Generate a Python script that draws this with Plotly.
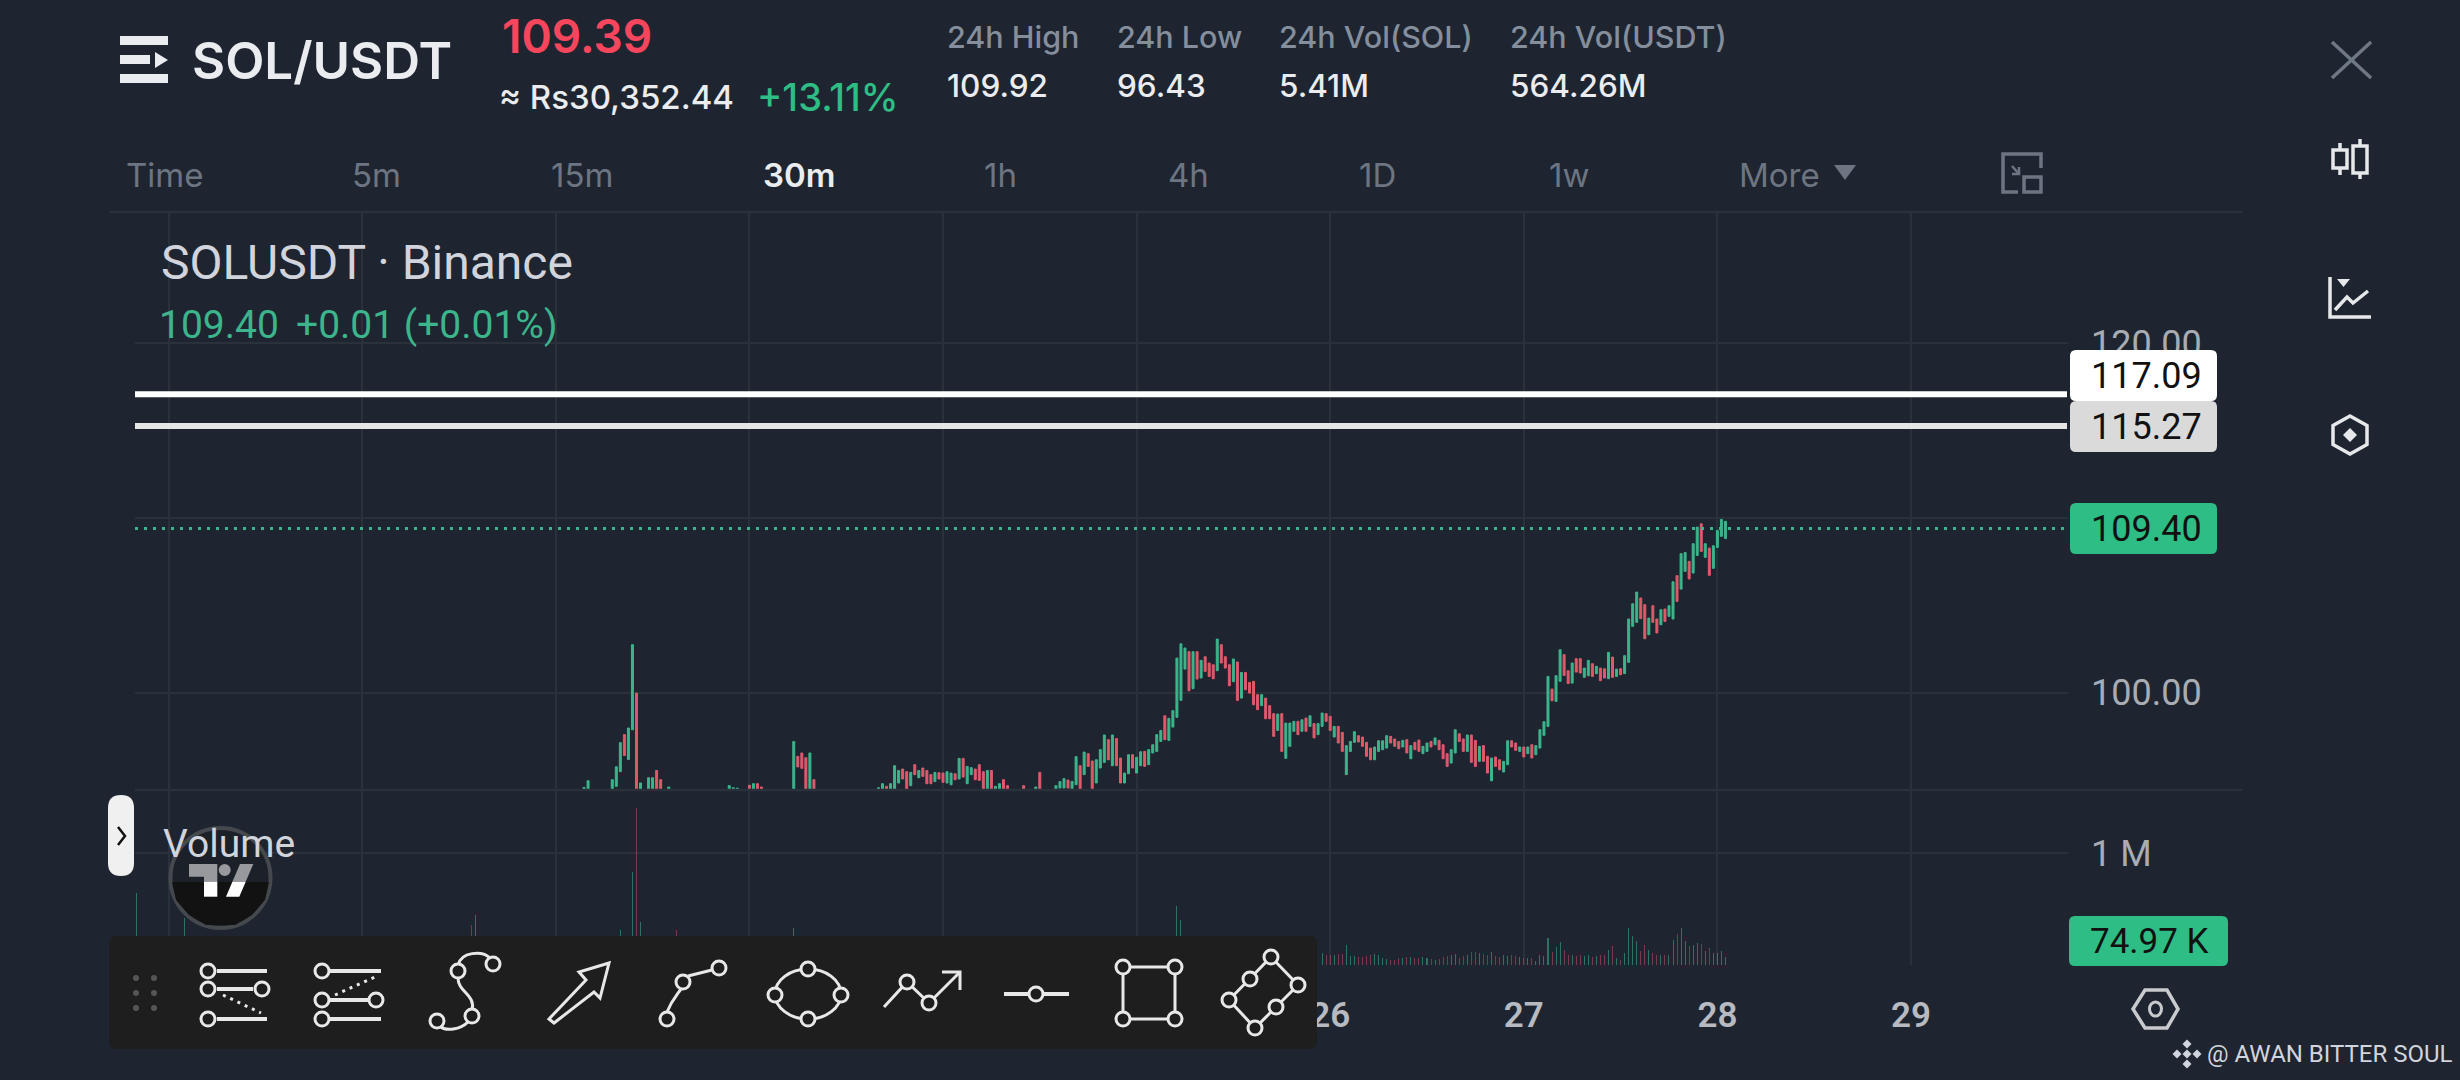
import pandas as pd
import plotly.graph_objects as go
from plotly.subplots import make_subplots

W, H = 2460, 1080
N = None

BG = '#1e2530'
GRID = '#2b313b'
GREEN = '#2ebd85'
BAR_GREEN = '#3cb58c'
BAR_RED = '#df5a6c'
RED = '#f6465d'
LIGHT = '#eaecef'
MUTED = '#848e9c'
DIM = '#6d7582'

# 30m candles starting 22 Dec 03:30, ten per row. N = below the visible pane
highs = [
    94.58, 94.96, N, N, N, N, N, 95.02, 95.76, 97.14,
    97.60, 97.98, 102.75, 99.98, 94.83, N, 95.13, 95.13, 95.55, 95.02,
    N, 94.60, N, N, N, N, N, N, N, N,
    N, N, N, N, N, N, 94.68, 94.56, 94.54, N,
    N, 94.70, 94.79, 94.79, 94.60, N, N, N, N, N,
    N, N, 97.20, 96.36, 96.55, 96.28, 96.55, 95.02, N, N,
    N, N, N, N, N, N, N, N, N, N,
    N, N, N, 94.56, 94.79, 94.64, 94.79, 95.82, 95.55, 95.63,
    95.48, 95.44, 95.88, 95.55, 95.69, 95.54, 95.31, 95.44, 95.42, 95.40,
    95.48, 95.40, 95.36, 96.24, 96.24, 95.78, 95.71, 95.63, 95.88, 95.48,
    95.55, 95.55, 94.64, 94.79, 95.02, 94.68, N, N, N, 94.68,
    N, N, 94.60, 95.44, N, N, N, 94.68, 94.91, 95.08,
    95.00, 94.92, 96.34, 95.82, 96.60, 96.51, 96.09, 96.16, 96.74, 97.58,
    97.31, 97.58, 97.37, 96.26, 95.40, 96.45, 96.45, 96.30, 96.62, 96.64,
    96.74, 97.02, 97.60, 97.84, 98.68, 98.53, 98.97, 101.98, 102.80, 102.56,
    102.35, 102.35, 102.35, 101.85, 102.06, 101.70, 101.60, 103.07, 102.75, 102.06,
    101.60, 101.93, 101.76, 101.16, 101.16, 100.59, 100.65, 99.89, 99.89, 99.69,
    99.26, 98.80, 98.78, 98.80, 98.26, 98.26, 98.36, 98.36, 98.45, 98.55,
    98.68, 98.23, 98.23, 98.84, 98.80, 98.65, 98.07, 98.07, 97.73, 96.97,
    97.21, 97.77, 97.54, 97.46, 97.16, 96.83, 96.89, 97.25, 97.25, 97.54,
    97.50, 97.35, 97.21, 97.27, 97.31, 96.97, 97.16, 97.29, 96.93, 97.12,
    97.21, 97.41, 97.27, 97.02, 96.51, 96.74, 97.88, 97.65, 97.35, 97.58,
    97.58, 97.27, 96.93, 96.97, 96.36, 96.26, 96.32, 96.16, 96.07, 97.25,
    97.25, 97.12, 96.89, 96.89, 96.89, 97.02, 96.97, 97.88, 98.34, 100.93,
    100.21, 100.97, 102.46, 102.18, 101.26, 101.70, 101.95, 101.95, 101.41, 101.85,
    101.66, 101.51, 101.41, 101.37, 102.31, 102.04, 101.35, 101.37, 102.12, 104.22,
    105.09, 105.76, 105.42, 105.04, 104.27, 104.98, 104.22, 104.75, 104.79, 104.98,
    106.35, 106.70, 107.96, 108.03, 107.52, 108.53, 109.48, 109.67, 108.53, 108.28,
    108.41, 109.29, 109.92, 109.81,
]
lows = [
    94.3, 94.3, N, N, N, N, N, 94.3, 94.64, 95.48,
    96.41, 96.18, 97.88, 94.3, 94.3, N, 94.3, 94.3, 94.3, 94.3,
    N, 94.3, N, N, N, N, N, N, N, N,
    N, N, N, N, N, N, 94.3, 94.3, 94.3, N,
    N, 94.3, 94.3, 94.3, 94.3, N, N, N, N, N,
    N, N, 94.3, 95.75, 95.67, 94.3, 94.3, 94.3, N, N,
    N, N, N, N, N, N, N, N, N, N,
    N, N, N, 94.3, 94.3, 94.3, 94.3, 94.3, 94.83, 95.06,
    94.3, 94.68, 95.31, 95.13, 95.21, 94.79, 94.79, 94.91, 95.06, 94.87,
    94.83, 94.73, 95.02, 95.06, 95.17, 94.79, 95.31, 95.02, 94.98, 94.3,
    94.3, 94.3, 94.3, 94.3, 94.3, 94.3, N, N, N, 94.3,
    N, N, 94.3, 94.3, N, N, N, 94.49, 94.54, 94.54,
    94.54, 94.49, 94.73, 94.3, 95.31, 95.78, 94.3, 94.83, 95.69, 96.01,
    96.16, 95.82, 95.82, 94.83, 94.83, 95.36, 95.69, 95.40, 95.82, 95.78,
    95.88, 96.55, 96.64, 97.21, 97.31, 97.27, 98.03, 98.59, 99.56, 101.35,
    100.11, 100.23, 100.78, 100.84, 101.22, 100.93, 100.80, 101.26, 101.70, 101.41,
    100.40, 100.63, 99.56, 99.69, 100.17, 99.98, 99.31, 99.03, 99.26, 98.51,
    98.51, 97.50, 97.84, 96.64, 96.24, 96.93, 97.79, 97.60, 97.79, 97.79,
    98.07, 97.41, 97.60, 98.07, 98.36, 97.84, 97.46, 97.12, 96.64, 95.31,
    96.64, 97.16, 97.18, 96.93, 96.36, 96.16, 96.16, 96.64, 96.74, 96.83,
    97.12, 96.93, 96.79, 96.89, 96.55, 96.22, 96.74, 96.64, 96.51, 96.64,
    96.89, 97.02, 96.74, 96.22, 95.78, 95.97, 96.55, 97.21, 96.64, 96.64,
    96.01, 95.78, 96.07, 96.07, 95.40, 94.96, 95.78, 95.59, 95.46, 95.88,
    96.89, 96.70, 96.64, 96.32, 96.51, 96.26, 96.45, 96.83, 97.56, 98.07,
    99.54, 99.50, 100.65, 100.99, 100.52, 100.55, 101.18, 101.13, 100.88, 100.97,
    100.93, 101.09, 100.69, 100.84, 100.80, 100.88, 100.93, 101.03, 101.09, 101.74,
    103.80, 104.03, 104.24, 103.09, 103.32, 104.03, 103.42, 103.89, 104.08, 104.37,
    104.22, 105.23, 105.93, 106.95, 106.51, 106.85, 107.86, 108.09, 107.75, 106.72,
    107.12, 108.32, 108.95, 108.83,
]
# g = up candle, r = down candle, . = not visible
directions = (
    "gg.....ggg" "rggrg.ggrr" ".g........" "......ggg." ".rgrr....."
    "..grrrgr.." ".........." "...ggrgggr" "rgrgrrrgrr" "ggrgrggrrr"
    "grggrr...r" "..gr...ggg" "rggrgrrggg" "rgrrggrggr" "ggggrggggg"
    "rgrgrrrgrr" "rgrgrrrrgr" "rrgrgggrgr" "grggrrgrrg" "ggrrrrgggg"
    "rrrgrgrrgg" "rgrrrggrrg" "rrgrrgrrgg" "rrgrgrgggg" "rggrrgrrgg"
    "rgrrgrgrgg" "ggrrgrrgrg" "grggrggrgr" "gggg"
)

# volume spikes that show above the drawing toolbar
spike_times = ['2023-12-19 20:00', '2023-12-20 02:00', '2023-12-21 13:30', '2023-12-21 14:00',
               '2023-12-22 08:00', '2023-12-22 09:30', '2023-12-22 10:00', '2023-12-22 10:30',
               '2023-12-22 15:00', '2023-12-23 05:30', '2023-12-25 05:00', '2023-12-25 05:30']
spike_volumes = [643, 420, 357, 446, 312, 830, 1400, 384, 312, 330, 527, 400]  # thousands
spike_directions = 'ggrgggrgrggg'

# volume to the right of the toolbar, from candle 183 (25 Dec 23:00) to the last one
tail_volumes = [
    107, 92, 92, 86, 98, 98, 182, 77, 77, 68, 68, 77, 86, 98, 92, 62, 57, 48, 48, 62,
    62, 68, 68, 62, 62, 68, 62, 57, 48, 57, 68, 77, 92, 98, 62, 77, 86, 116, 116, 107,
    98, 92, 113, 77, 68, 86, 77, 86, 77, 68, 62,
    62, 62, 39, 86, 77, 241, 116, 158, 205, 137, 86, 92, 77, 86, 77, 92, 68, 77, 92, 86,
    137, 167, 62, 48, 107, 330, 256, 217, 122, 182, 137, 107, 92, 92, 86, 92, 226, 277, 330, 217,
    167, 182, 196, 187, 122, 152, 107, 107, 128, 74.97,
]
TAIL_START = 183

level_prices = [117.09, 115.27]
last_price = 109.40
last_volume = '74.97 K'
price_ticks = [100, 110, 120]
price_tick_labels = ['100.00', '', '120.00']  # 110.00 sits behind the last price tag
volume_ticks = [1000000]
volume_tick_labels = ['1 M']

interval_labels = ['Time', '5m', '15m', '30m', '1h', '4h', '1D', '1w', 'More']
interval_lefts = [125, 351, 550, 762, 983, 1167, 1358, 1548, 1738]
stat_titles = ['24h High', '24h Low', '24h Vol(SOL)', '24h Vol(USDT)']
stat_values = ['109.92', '96.43', '5.41M', '564.26M']
stat_lefts = [946, 1116, 1278, 1509]

shapes = []
annotations = []


def px(x):
    return x / W


def py(y):
    return 1 - y / H


def path_shape(d, fill=None, line=None, width=0):
    shapes.append(dict(type='path', path=d, xref='paper', yref='paper', layer='above',
                       fillcolor=fill if fill else 'rgba(0,0,0,0)',
                       line=dict(color=line if line else 'rgba(0,0,0,0)', width=width)))


def poly(points, fill=None, line=None, width=0, closed=True):
    d = 'M ' + ' L '.join(f'{px(x)} {py(y)}' for x, y in points)
    path_shape(d + (' Z' if closed else ''), fill, line, width)


def curve(start, segments, line, width):
    # segments are cubic beziers given as 3 points each
    d = f'M {px(start[0])} {py(start[1])}'
    for seg in segments:
        d += ' C ' + ' '.join(f'{px(x)} {py(y)}' for x, y in seg)
    path_shape(d, None, line, width)


def seg(x0, y0, x1, y1, color, width, dash='solid'):
    shapes.append(dict(type='line', xref='paper', yref='paper', layer='above',
                       x0=px(x0), x1=px(x1), y0=py(y0), y1=py(y1),
                       line=dict(color=color, width=width, dash=dash)))


def circle(cx, cy, r, fill=None, line=None, width=0, ry=None):
    ry = ry if ry else r
    shapes.append(dict(type='circle', xref='paper', yref='paper', layer='above',
                       x0=px(cx - r), x1=px(cx + r), y0=py(cy + ry), y1=py(cy - ry),
                       fillcolor=fill if fill else 'rgba(0,0,0,0)',
                       line=dict(color=line if line else 'rgba(0,0,0,0)', width=width)))


def box(x0, y0, x1, y1, fill, r=6):
    k = [(x0 + r, y0), (x1 - r, y0), (x1, y0 + r), (x1, y1 - r), (x1 - r, y1), (x0 + r, y1), (x0, y1 - r), (x0, y0 + r)]
    d = f'M {px(k[0][0])} {py(k[0][1])} L {px(k[1][0])} {py(k[1][1])} Q {px(x1)} {py(y0)} {px(k[2][0])} {py(k[2][1])}'
    d += f' L {px(k[3][0])} {py(k[3][1])} Q {px(x1)} {py(y1)} {px(k[4][0])} {py(k[4][1])}'
    d += f' L {px(k[5][0])} {py(k[5][1])} Q {px(x0)} {py(y1)} {px(k[6][0])} {py(k[6][1])}'
    d += f' L {px(k[7][0])} {py(k[7][1])} Q {px(x0)} {py(y0)} {px(k[0][0])} {py(k[0][1])} Z'
    path_shape(d, fill)


def label(text, x, y, size, color, anchor='left', weight=400, family='Inter'):
    annotations.append(dict(text=text, x=px(x), y=py(y), xref='paper', yref='paper', showarrow=False,
                            xanchor=anchor, yanchor='middle', borderpad=0,
                            font=dict(size=size, color=color, family=family, weight=weight)))


candle_times = pd.date_range('2023-12-22 03:30', periods=len(highs), freq='30min')
opens = [lo if d == 'g' else hi for lo, hi, d in zip(lows, highs, directions)]
closes = [hi if d == 'g' else lo for lo, hi, d in zip(lows, highs, directions)]

volume_times = list(pd.to_datetime(spike_times)) + list(candle_times[TAIL_START:])
volumes = [v * 1000 for v in spike_volumes + tail_volumes]
volume_dirs = list(spike_directions) + list(directions[TAIL_START:])
volume_colors = ['rgba(60,181,140,0.55)' if d == 'g' else 'rgba(223,90,108,0.45)' for d in volume_dirs]

fig = make_subplots(rows=2, cols=1, shared_xaxes=True, vertical_spacing=0)
fig.add_trace(go.Candlestick(x=candle_times, open=opens, high=highs, low=lows, close=closes,
                             increasing=dict(line=dict(color=BAR_GREEN, width=1), fillcolor=BAR_GREEN),
                             decreasing=dict(line=dict(color=BAR_RED, width=1), fillcolor=BAR_RED),
                             showlegend=False), row=1, col=1)
fig.add_trace(go.Bar(x=volume_times, y=volumes, marker=dict(color=volume_colors, line=dict(width=0)),
                     width=460000, showlegend=False), row=2, col=1)

fig.update_xaxes(range=['2023-12-19 19:50', '2023-12-29 19:28'], type='date',
                 tick0='2023-12-20', dtick=86400000, tickformat='%d',
                 showgrid=True, gridcolor=GRID, gridwidth=2, zeroline=False, showline=False,
                 ticks='', rangeslider_visible=False,
                 domain=[px(135), px(2068)])
fig.update_xaxes(showticklabels=False, row=1, col=1)
fig.update_xaxes(showticklabels=True, ticklabelstandoff=26,
                 tickfont=dict(family='Roboto', size=35, color='#b7bac0', weight=600), row=2, col=1)

fig.update_yaxes(side='right', showgrid=True, gridcolor=GRID, gridwidth=2, zeroline=False, showline=False,
                 ticks='', ticklabelstandoff=22,
                 tickfont=dict(family='Roboto', size=36, color='#a9adb3'))
fig.update_yaxes(range=[94.43, 127.52], tickvals=price_ticks, ticktext=price_tick_labels,
                 domain=[py(790), py(212)], row=1, col=1)
fig.update_yaxes(range=[0, 1562500], tickvals=volume_ticks, ticktext=volume_tick_labels,
                 domain=[py(965), py(790)], row=2, col=1)

# header
poly([(120, 36), (168, 36), (168, 45), (120, 45)], fill=LIGHT)
poly([(120, 55), (150, 55), (150, 64), (120, 64)], fill=LIGHT)
poly([(155, 52), (168, 60), (155, 68)], fill=LIGHT)
poly([(120, 74), (168, 74), (168, 83), (120, 83)], fill=LIGHT)
label('SOL/USDT', 191, 61, 51, LIGHT, weight=600)
label('109.39', 501, 36, 46, RED, weight=600)
label('≈ Rs30,352.44', 498, 97, 33, LIGHT, weight=500)
label('+13.11%', 756, 97, 38, GREEN, weight=500)
for title, value, left in zip(stat_titles, stat_values, stat_lefts):
    label(title, left, 37, 30.5, MUTED, weight=500)
    label(value, left, 85, 31.5, LIGHT, weight=500)

seg(2332, 42, 2371, 78, '#6f7885', 3.5)
seg(2371, 42, 2332, 78, '#6f7885', 3.5)

# interval row
for text, left in zip(interval_labels, interval_lefts):
    active = text == '30m'
    label(text, left, 175, 33, LIGHT if active else DIM, weight=600 if active else 400)
poly([(1834, 165), (1856, 165), (1845, 180)], fill=DIM)
poly([(2018, 192), (2003, 192), (2003, 154), (2041, 154), (2041, 168)], line=DIM, width=3.5, closed=False)
poly([(2024, 177), (2041, 177), (2041, 192), (2024, 192)], line=DIM, width=3.5)
poly([(2012, 166), (2019, 174)], line=DIM, width=2.5, closed=False)
poly([(2019, 167), (2019, 174), (2012, 174)], line=DIM, width=2.5, closed=False)

# right hand icons
for x, top, bot, y0, y1 in [(2340, 143, 175, 150, 168), (2360, 139, 179, 146, 173)]:
    seg(x, top, x, y0, '#e6e8ea', 3.5)
    seg(x, y1, x, bot, '#e6e8ea', 3.5)
    poly([(x - 7, y0), (x + 7, y0), (x + 7, y1), (x - 7, y1)], line='#e6e8ea', width=3.5)
poly([(2330, 277), (2330, 317), (2371, 317)], line='#e6e8ea', width=3.5, closed=False)
poly([(2337, 279), (2350, 279), (2343.5, 287)], fill='#e6e8ea')
poly([(2335, 310), (2347, 297), (2353, 303), (2368, 291)], line='#e6e8ea', width=3.5, closed=False)
poly([(2350, 416), (2367, 425.5), (2367, 444.5), (2350, 454), (2333, 444.5), (2333, 425.5)], line='#e6e8ea', width=3.5)
poly([(2350, 428), (2357, 435), (2350, 442), (2343, 435)], fill='#e6e8ea')

# pane titles
label('SOLUSDT · Binance', 160, 262, 48, '#d1d4dc', family='Roboto')
label('109.40', 158, 325, 39, BAR_GREEN, family='Roboto')
label('+0.01 (+0.01%)', 295, 325, 39, BAR_GREEN, family='Roboto')

# separators
seg(110, 212, 2242, 212, GRID, 2.5)
seg(135, 790, 2242, 790, GRID, 2.5)

# drawn levels and last price
for value, color in zip(level_prices, ['#ffffff', '#e6e6e6']):
    shapes.append(dict(type='line', xref='paper', yref='y', layer='above', x0=px(135), x1=px(2067),
                       y0=value, y1=value, line=dict(color=color, width=6)))
shapes.append(dict(type='line', xref='paper', yref='y', layer='above', x0=px(135), x1=px(2066),
                   y0=last_price, y1=last_price, line=dict(color=BAR_GREEN, width=3, dash='3px,6px')))

box(2070, 350, 2217, 401, '#ffffff')
box(2070, 401, 2217, 452, '#dadada')
box(2070, 503, 2217, 554, GREEN)
box(2069, 916, 2228, 966, GREEN)
label(f'{level_prices[0]:.2f}', 2146, 376, 36, '#111111', anchor='center', family='Roboto')
label(f'{level_prices[1]:.2f}', 2146, 427, 36, '#111111', anchor='center', family='Roboto')
label(f'{last_price:.2f}', 2146, 529, 36, '#111111', anchor='center', family='Roboto')
label(last_volume, 2149, 941, 35, '#111111', anchor='center', family='Roboto')

# side pill, TradingView badge
box(108, 795, 134, 876, '#f0f0f0', r=13)
poly([(118, 827), (125, 836), (118, 845)], line='#111111', width=2.5, closed=False)
circle(220.5, 878, 50, fill='#1c2028', line='#45484d', width=4)
poly([(172, 882), (269, 882), (265, 900), (252, 915), (235, 925), (206, 925), (189, 915), (176, 900)], fill='#121212')
poly([(189, 864), (217.3, 864), (217.3, 881.7), (204, 881.7), (204, 876.7), (189, 876.7)], fill='#97999c')
poly([(204, 881.7), (217.3, 881.7), (217.3, 896.7), (204, 896.7)], fill='#ffffff')
circle(224.7, 870, 6, fill='#97999c')
poly([(240, 864), (253.3, 864), (245.7, 881.7), (232.4, 881.7)], fill='#97999c')
poly([(232.4, 881.7), (245.7, 881.7), (239.3, 896.7), (226, 896.7)], fill='#ffffff')
label('Volume', 162, 844, 39, '#d1d4dc', family='Roboto')

# drawing toolbar
box(109, 936, 1317, 1049, '#1e1e1e', r=8)
for x in (136, 154):
    for y in (978, 993, 1008):
        circle(x, y, 3, fill='#555555')
ICON = '#e8e8e8'
TB = '#1e1e1e'


def handle(x, y, r=7):
    circle(x, y, r, fill=TB, line=ICON, width=3)


# fib retracement style icons
seg(217, 971, 267, 971, ICON, 4)
seg(217, 989, 253, 989, ICON, 4)
seg(217, 1019, 267, 1019, ICON, 4)
seg(223, 995, 261, 1013, ICON, 3, dash='3px,5px')
for x, y in [(208, 971), (208, 989), (262, 989), (208, 1019)]:
    handle(x, y)
seg(330, 971, 381, 971, ICON, 4)
seg(330, 1000, 368, 1000, ICON, 4)
seg(330, 1019, 381, 1019, ICON, 4)
seg(335, 995, 375, 977, ICON, 3, dash='3px,5px')
for x, y in [(322, 971), (322, 1000), (376, 1000), (322, 1019)]:
    handle(x, y)
# curve
curve((458, 965), [[(461, 952), (482, 950), (490, 958)]], ICON, 3)
curve((458, 978), [[(458, 992), (476, 995), (472, 1010)]], ICON, 3)
curve((468, 1022), [[(460, 1030), (446, 1031), (441, 1027)]], ICON, 3)
for x, y in [(458, 971), (493, 964), (472, 1016), (437, 1021)]:
    handle(x, y)
# arrow
poly([(609, 963), (579, 972), (586, 980), (549, 1019), (554, 1023), (594, 992), (600, 998)], line=ICON, width=3)
# path
curve((667, 1012), [[(672, 1000), (677, 995), (681, 989)]], ICON, 3)
seg(688, 976, 712, 970, ICON, 3)
for x, y in [(667, 1019), (683, 982), (719, 968)]:
    handle(x, y)
# ellipse
circle(808, 994, 33, line=ICON, width=3, ry=25)
for x, y in [(808, 969), (775, 995), (841, 995), (808, 1019)]:
    handle(x, y)
# polyline arrow
poly([(884, 1007), (907, 982), (929, 1003), (959, 973)], line=ICON, width=3, closed=False)
poly([(942, 972), (960, 972), (960, 990)], line=ICON, width=3, closed=False)
handle(907, 982)
handle(929, 1003)
# anchor
seg(1004, 994, 1069, 994, ICON, 4)
handle(1036, 994)
# rectangle
poly([(1123, 967), (1175, 967), (1175, 1019), (1123, 1019)], line=ICON, width=3)
for x, y in [(1123, 967), (1175, 967), (1123, 1019), (1175, 1019)]:
    handle(x, y)
# rotated rectangle
poly([(1271, 957), (1298, 985), (1255, 1028), (1229, 1000)], line=ICON, width=3)
for x, y in [(1271, 957), (1298, 985), (1250, 979), (1276, 1007), (1229, 1000), (1255, 1028)]:
    handle(x, y)

# bottom right
poly([(2145, 990), (2167, 990), (2178, 1009), (2167, 1028), (2145, 1028), (2133, 1009)], line='#c8cacd', width=3.5)
circle(2155.5, 1009, 6, line='#c8cacd', width=3, ry=7)
for cx, cy in [(2187, 1044), (2177, 1054), (2197, 1054), (2187, 1054), (2187, 1064)]:
    poly([(cx, cy - 4.5), (cx + 4.5, cy), (cx, cy + 4.5), (cx - 4.5, cy)], fill='#d1d4dc')
label('@ AWAN BITTER SOUL', 2206, 1054, 24, '#d1d4dc', family='Roboto')

fig.update_layout(width=W, height=H, margin=dict(l=0, r=0, t=0, b=0), paper_bgcolor=BG, plot_bgcolor=BG,
                  showlegend=False, hovermode=False, bargap=0, shapes=shapes, annotations=annotations)

fig.write_html("out.html", config=dict(displayModeBar=False), post_script="document.body.style.margin='0';")
